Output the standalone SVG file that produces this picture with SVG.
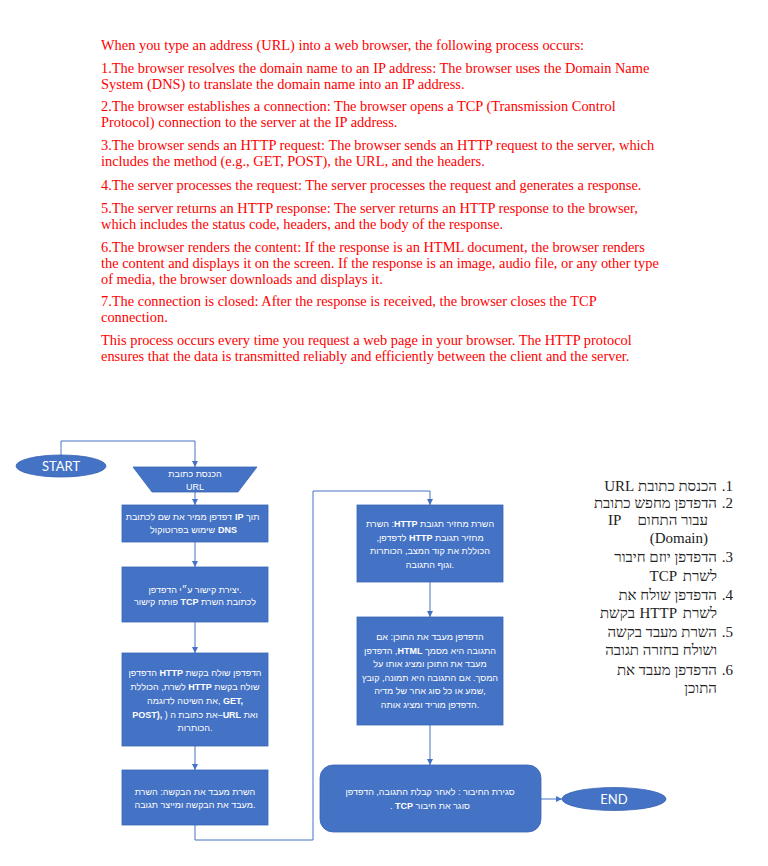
<svg xmlns="http://www.w3.org/2000/svg" width="768" height="866" viewBox="0 0 768 866">
<style>
.top{font-family:"Liberation Serif","Times New Roman",serif;font-size:14.4px;fill:#FF0000}
.node{fill:#4472C4;stroke:#3A66B5;stroke-width:0.8}
.bt{font-family:"Liberation Sans","DejaVu Sans",sans-serif;font-size:9px;fill:#FFFFFF;text-anchor:middle}
.s{text-anchor:start}
.e{text-anchor:end}
.b{font-weight:bold}
.rtl{direction:rtl;unicode-bidi:embed}
.term{font-family:Lato,"Open Sans","Liberation Sans",sans-serif;font-size:13px;fill:#FFFFFF;text-anchor:middle}
.conn{fill:none;stroke:#4472C4;stroke-width:1}
.lst{font-family:"Liberation Serif","DejaVu Serif",serif;font-size:15px;fill:#222222;text-anchor:end}
</style>
<defs>
<marker id="arr" viewBox="0 0 10 10" refX="10" refY="5" markerWidth="6" markerHeight="6" orient="auto" markerUnits="userSpaceOnUse">
<path d="M0,0 L10,5 L0,10 z" fill="#4472C4"/>
</marker>
</defs>
<rect width="768" height="866" fill="#FFFFFF"/>

<g id="intro-text" class="top">
<text x="101" y="50">When you type an address (URL) into a web browser, the following process occurs:</text>
<text x="101" y="73">1.The browser resolves the domain name to an IP address: The browser uses the Domain Name</text>
<text x="101" y="89">System (DNS) to translate the domain name into an IP address.</text>
<text x="101" y="111">2.The browser establishes a connection: The browser opens a TCP (Transmission Control</text>
<text x="101" y="127">Protocol) connection to the server at the IP address.</text>
<text x="101" y="150">3.The browser sends an HTTP request: The browser sends an HTTP request to the server, which</text>
<text x="101" y="166">includes the method (e.g., GET, POST), the URL, and the headers.</text>
<text x="101" y="190">4.The server processes the request: The server processes the request and generates a response.</text>
<text x="101" y="213">5.The server returns an HTTP response: The server returns an HTTP response to the browser,</text>
<text x="101" y="229">which includes the status code, headers, and the body of the response.</text>
<text x="101" y="252">6.The browser renders the content: If the response is an HTML document, the browser renders</text>
<text x="101" y="268">the content and displays it on the screen. If the response is an image, audio file, or any other type</text>
<text x="101" y="284">of media, the browser downloads and displays it.</text>
<text x="101" y="306">7.The connection is closed: After the response is received, the browser closes the TCP</text>
<text x="101" y="322">connection.</text>
<text x="101" y="345">This process occurs every time you request a web page in your browser. The HTTP protocol</text>
<text x="101" y="361">ensures that the data is transmitted reliably and efficiently between the client and the server.</text>
</g>

<g id="connectors">
<path class="conn" d="M61,455 V441 H195 V467" marker-end="url(#arr)"/>
<path class="conn" d="M195,492 V505" marker-end="url(#arr)"/>
<path class="conn" d="M195,542 V567" marker-end="url(#arr)"/>
<path class="conn" d="M195,622 V653" marker-end="url(#arr)"/>
<path class="conn" d="M195,746 V770" marker-end="url(#arr)"/>
<path class="conn" d="M195,825 V840 H313 V491 H430 V505" marker-end="url(#arr)"/>
<path class="conn" d="M430,582 V617" marker-end="url(#arr)"/>
<path class="conn" d="M430,725 V765" marker-end="url(#arr)"/>
<path class="conn" d="M541,799 H562" marker-end="url(#arr)"/>
</g>

<g id="start">
<ellipse class="node" cx="61" cy="466" rx="45" ry="11"/>
<text class="term" x="61" y="470.5">START</text>
</g>

<g id="input-url">
<polygon class="node" points="133,467 257,467 238,492 152,492"/>
<text class="bt" x="195" y="477">הכנסת כתובת</text>
<text class="bt" x="195" y="490">URL</text>
</g>

<g id="dns">
<rect class="node" x="122" y="505" width="146" height="37"/>
<text class="bt e" x="232" y="520">דפדפן ממיר את שם לכתובת</text>
<text class="bt s b" x="235" y="520">IP</text>
<text class="bt s" x="246" y="520">תוך</text>
<text class="bt e" x="215" y="533">שימוש בפרוטוקול</text>
<text class="bt s b" x="218" y="533">DNS</text>
</g>

<g id="tcp-connect">
<rect class="node" x="122" y="567" width="146" height="55"/>
<text class="bt" x="195" y="593">יצירת קישור ע״י הדפדפן.</text>
<text class="bt" x="195" y="605">פותח קישור <tspan class="b">TCP</tspan> לכתובת השרת</text>
</g>

<g id="http-request">
<rect class="node" x="122" y="653" width="146" height="93"/>
<text class="bt rtl" x="195" y="676">הדפדפן שולח בקשת <tspan class="b">HTTP</tspan> הדפדפן</text>
<text class="bt rtl" x="195" y="690">שולח בקשת <tspan class="b">HTTP</tspan> לשרת, הכוללת</text>
<text class="bt" x="195" y="704">את השיטה לדוגמה, <tspan class="b">GET,</tspan></text>
<text class="bt" x="195" y="718"><tspan class="b">POST),</tspan>  ) את כתובת ה–<tspan class="b">URL</tspan>  ואת</text>
<text class="bt" x="195" y="731">הכותרות.</text>
</g>

<g id="server-process">
<rect class="node" x="122" y="770" width="146" height="55"/>
<text class="bt" x="195" y="795">השרת מעבד את הבקשה: השרת</text>
<text class="bt" x="195" y="808">מעבד את הבקשה ומייצר תגובה.</text>
</g>

<g id="http-response">
<rect class="node" x="357" y="505" width="146" height="77"/>
<text class="bt rtl" x="430" y="527">השרת מחזיר תגובת <tspan class="b">HTTP</tspan>:  השרת</text>
<text class="bt rtl" x="430" y="541">מחזיר תגובת <tspan class="b">HTTP</tspan> לדפדפן,</text>
<text class="bt" x="430" y="554">הכוללת את קוד המצב, הכותרות</text>
<text class="bt" x="430" y="568">וגוף התגובה.</text>
</g>

<g id="render">
<rect class="node" x="357" y="617" width="146" height="108"/>
<text class="bt" x="430" y="640">הדפדפן מעבד את התוכן: אם</text>
<text class="bt rtl" x="430" y="654">התגובה היא מסמך <tspan class="b">HTML</tspan>, הדפדפן</text>
<text class="bt" x="430" y="667">מעבד את התוכן ומציג אותו על</text>
<text class="bt" x="430" y="681">המסך. אם התגובה היא תמונה, קובץ</text>
<text class="bt" x="430" y="694">שמע או כל סוג אחר של מדיה,</text>
<text class="bt" x="430" y="708">הדפדפן מוריד ומציג אותה.</text>
</g>

<g id="close">
<rect class="node" x="320" y="765" width="221" height="67" rx="13" ry="13"/>
<text class="bt" x="430" y="795">סגירת החיבור : לאחר קבלת התגובה, הדפדפן</text>
<text class="bt rtl" x="430" y="809">סוגר את חיבור <tspan class="b">TCP</tspan> .</text>
</g>

<g id="end">
<ellipse class="node" cx="614" cy="799" rx="52" ry="11.5"/>
<text class="term" x="614" y="803.5">END</text>
</g>

<g id="steps-list" class="lst">
<text x="733" y="491">.1</text>
<text x="733" y="508">.2</text>
<text x="733" y="562">.3</text>
<text x="733" y="600">.4</text>
<text x="733" y="637">.5</text>
<text x="733" y="675">.6</text>
<text class="rtl" x="717" y="491" style="text-anchor:start">הכנסת כתובת URL</text>
<text x="717" y="508">הדפדפן מחפש כתובת</text>
<text x="608" y="525" style="text-anchor:start">IP</text>
<text x="708" y="525">עבור התחום</text>
<text x="708" y="543">(Domain)</text>
<text x="717" y="562">הדפדפן יוזם חיבור</text>
<text x="677" y="581">TCP</text>
<text x="717" y="581">לשרת</text>
<text x="717" y="600">הדפדפן שולח את</text>
<text x="635" y="618">בקשת</text>
<text x="677" y="618">HTTP</text>
<text x="717" y="618">לשרת</text>
<text x="717" y="637">השרת מעבד בקשה</text>
<text x="717" y="655">ושולח בחזרה תגובה</text>
<text x="717" y="675">הדפדפן מעבד את</text>
<text x="717" y="693">התוכן</text>
</g>
</svg>
